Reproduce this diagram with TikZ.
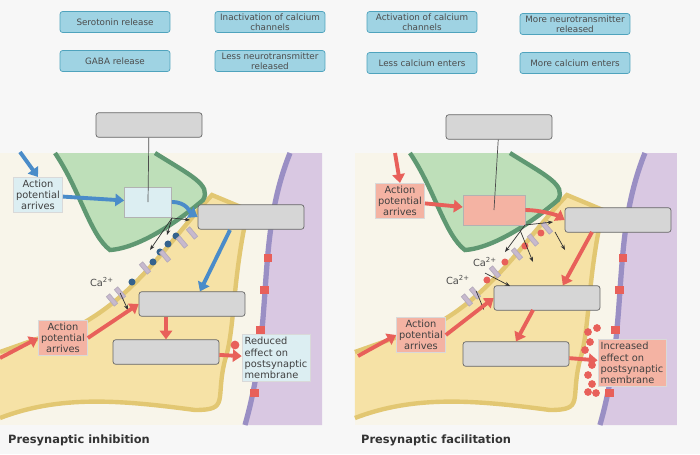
\documentclass[tikz,border=0pt]{standalone}
\usepackage{fontspec}
\setmainfont{DejaVu Sans}
\usetikzlibrary{arrows.meta,positioning}
\definecolor{btnfill}{HTML}{9FD3E3}
\definecolor{btnline}{HTML}{4FA3BD}
\definecolor{cream}{HTML}{F8F5EA}
\definecolor{purp}{HTML}{D9C8E2}
\definecolor{purpline}{HTML}{9A8FC4}
\definecolor{yel}{HTML}{F6E2A6}
\definecolor{yelline}{HTML}{E2C772}
\definecolor{grn}{HTML}{BEDFB9}
\definecolor{grnline}{HTML}{5F9872}
\definecolor{blu}{HTML}{4A8CC9}
\definecolor{rd}{HTML}{E8605A}
\definecolor{salmon}{HTML}{F4B3A3}
\definecolor{lblue}{HTML}{DCEEF2}
\definecolor{gbox}{HTML}{D6D6D6}
\tikzset{
  btn/.style={draw=btnline, fill=btnfill, rounded corners=1.5pt, minimum width=2.2cm, minimum height=0.42cm, inner sep=1pt, align=center, font=\fontsize{5}{5.8}\selectfont, text=black!70},
  blank/.style={draw=black!60, fill=gbox, rounded corners=1.5pt, minimum width=2.12cm, minimum height=0.49cm},
  lab/.style={draw=black!15, inner sep=1.5pt, align=center, font=\fontsize{5.6}{6.4}\selectfont, text=black!75},
  blarr/.style={blu, line width=2.2pt, -{Triangle[length=5pt,width=7pt]}},
  rdarr/.style={rd, line width=2.2pt, -{Triangle[length=5pt,width=7pt]}},
  thin/.style={black!80, line width=0.4pt, -{Stealth[length=3pt]}},
  chan/.style={fill=purp!80!gray, draw=purp!60!gray, minimum width=2.5pt, minimum height=7pt, inner sep=0pt, rotate=40},
  rcpt/.style={fill=rd, minimum size=5pt, inner sep=0pt},
}
\newcommand\panelbg{%
  \fill[cream] (0,153) rectangle (322,425);
  \fill[purp] (290,153) .. controls (255,240) and (275,320) .. (245,425) -- (322,425) -- (322,153) -- cycle;
  \draw[purpline, line width=3pt] (290,153) .. controls (255,240) and (275,320) .. (245,425);
  \draw[yelline, fill=yel, line width=2.5pt] (0,352) -- (85,322) .. controls (140,290) and (170,240) .. (212,195)
     -- (248,210) .. controls (232,280) and (235,330) .. (225,360) .. controls (215,400) and (230,410) .. (195,410)
     .. controls (120,400) and (60,395) .. (0,418);
  \draw[grnline, fill=grn, line width=2.5pt] (55,153) .. controls (80,190) and (90,235) .. (110,250)
     .. controls (140,248) and (180,220) .. (203,200) .. controls (212,185) and (190,175) .. (155,153);
  \foreach \y in {258,290,330,393} \node[rcpt] at ({268-(\y-258)*0.1},\y) {};
}
\begin{document}
\begin{tikzpicture}[x=0.02cm,y=-0.02cm]
\useasboundingbox (0,0) rectangle (700,454);
\fill[white!94!gray] (0,0) rectangle (700,454);
% buttons
\node[btn] (sero) at (115,22) {Serotonin release};
\node[btn] (inact) at (270,22) {Inactivation of calcium\\channels};
\node[btn] (act) at (422,22) {Activation of calcium\\channels};
\node[btn] (moreNT) at (575,24) {More neurotransmitter\\released};
\node[btn] (gaba) at (115,61) {GABA release};
\node[btn] (lessNT) at (270,61) {Less neurotransmitter\\released};
\node[btn] (lessCa) at (422,63) {Less calcium enters};
\node[btn] (moreCa) at (575,63) {More calcium enters};
% inhibition panel
\panelbg
\foreach \x/\y in {132/282, 153/262, 160/252, 168/244, 176/236} \fill[blu!70!black] (\x,\y) circle (2pt);
\foreach \x/\y in {112/300, 120/293, 145/268, 165/256, 182/242, 192/233} \node[chan] at (\x,\y) {};
\node[blank] (itop) at (149,125) {};
\node[draw=black!30, fill=lblue, minimum width=0.94cm, minimum height=0.6cm] (imid) at (148,202) {};
\draw[black!70] (itop) -- (imid.center);
\node[lab, fill=lblue] (iap1) at (38,195) {Action\\potential\\arrives};
\coordinate (itl) at (20,152);
\draw[blarr] (itl) -- (iap1.north);
\draw[blarr] (iap1) -- (imid);
\node[blank] (iright) at (251,217) {};
\draw[blarr] (imid.east) .. controls +(15,0) and +(-8,-5) .. (iright.west);
\draw[thin] (172,218) -- (150,250);
\draw[thin] (172,218) -- (167,235);
\draw[thin] (172,218) -- (190,220);
\node[blank] (imid2) at (192,304) {};
\draw[blarr] (230,230) -- ([xshift=4.5pt]imid2.north);
\node[font=\fontsize{5.6}{6}\selectfont, text=black!70] (ica) at (102,282) {Ca\textsuperscript{2+}};
\draw[thin] (ica.south east) -- (128,310);
\node[lab, fill=salmon] (iap2) at (63,338) {Action\\potential\\arrives};
\coordinate (ileft) at (0,358);
\draw[rdarr] (ileft) -- (iap2.west);
\draw[rdarr] (iap2.east) -- (imid2.west);
\node[blank] (ibot) at (166,352) {};
\draw[rdarr] (imid2.south) ++(-26,0) coordinate (ids) -- (ids |- ibot.north);
\node[lab, fill=lblue, align=left] (ired) at (276,358) {Reduced\\effect on\\postsynaptic\\membrane};
\draw[rdarr] (ibot) -- (ired);
\fill[rd] (235,345) circle (2.5pt);
\node[font=\bfseries\fontsize{6.5}{7}\selectfont, text=black!80, anchor=west] at (2,440) {Presynaptic inhibition};
% facilitation panel
\begin{scope}[xshift=7.1cm]
\panelbg
\foreach \x/\y in {112/300, 120/293, 140/272, 162/254, 178/240, 192/228} \node[chan] at (\x,\y) {};
\foreach \x/\y in {132/280, 150/262, 170/246, 186/233} \fill[rd] (\x,\y) circle (2pt);
\end{scope}
\node[blank] (ftop) at (499,127) {};
\node[draw=black!30, fill=salmon, minimum width=1.24cm, minimum height=0.6cm] (fmid) at (494,210) {};
\draw[black!70] (ftop) -- (fmid.center);
\node[lab, fill=salmon] (fap1) at (400,201) {Action\\potential\\arrives};
\coordinate (ftl) at (395,153);
\draw[rdarr] (ftl) -- (fap1.north);
\draw[rdarr] (fap1) -- (fmid);
\node[blank] (fright) at (618,220) {};
\draw[rdarr] (fmid.east) .. controls +(15,0) and +(-8,-5) .. (fright.west);
\draw[thin] (525,225) -- (505,252);
\draw[thin] (525,225) -- (553,222);
\draw[thin] (520,230) -- (533,262);
\draw[thin] (555,232) -- (565,250);
\node[blank] (fmid2) at (547,298) {};
\draw[rdarr] (592,232) -- ([xshift=9pt]fmid2.north);
\node[font=\fontsize{5.6}{6}\selectfont, text=black!70] (fca1) at (485,262) {Ca\textsuperscript{2+}};
\node[font=\fontsize{5.6}{6}\selectfont, text=black!70] (fca2) at (458,280) {Ca\textsuperscript{2+}};
\draw[thin] (fca1.south) -- (510,286);
\draw[thin] (fca2.south east) -- (484,310);
\node[lab, fill=salmon] (fap2) at (421,335) {Action\\potential\\arrives};
\coordinate (fleft) at (358,356);
\draw[rdarr] (fleft) -- (fap2.west);
\draw[rdarr] (fap2.east) -- (fmid2.west);
\node[blank] (fbot) at (516,354) {};
\draw[rdarr] (533,310) -- (fbot.north);
\node[lab, fill=salmon, align=left] (finc) at (632,363) {Increased\\effect on\\postsynaptic\\membrane};
\draw[rdarr] (fbot) -- (finc);
\foreach \x/\y in {588/332, 597/328, 590/342, 585/350, 592/365, 588/375, 592/384, 588/392, 596/393} \fill[rd] (\x,\y) circle (2.2pt);
\node[font=\bfseries\fontsize{6.5}{7}\selectfont, text=black!80, anchor=west] at (355,440) {Presynaptic facilitation};
\end{tikzpicture}
\end{document}
